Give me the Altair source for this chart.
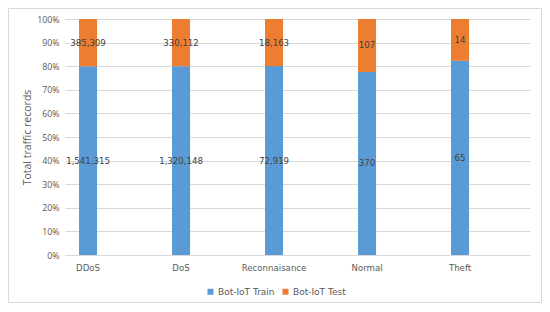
import altair as alt
import pandas as pd

categories = ["DDoS", "DoS", "Reconnaisance", "Normal", "Theft"]
train = [1541315, 1320148, 72919, 370, 65]
test = [385309, 330112, 18163, 107, 14]
series_names = ["Bot-IoT Train", "Bot-IoT Test"]
colors = ["#5B9BD5", "#ED7D31"]
y_ticks = [0, 0.1, 0.2, 0.3, 0.4, 0.5, 0.6, 0.7, 0.8, 0.9, 1.0]

rows = []
for i, c in enumerate(categories):
    rows.append({"category": c, "series": series_names[0], "value": train[i], "order": 0})
    rows.append({"category": c, "series": series_names[1], "value": test[i], "order": 1})
df = pd.DataFrame(rows)

GRID = "#d9d9d9"
TXT = "#595959"

base = alt.Chart(df).transform_stack(
    stack="value",
    groupby=["category"],
    as_=["y0", "y1"],
    offset="normalize",
    sort=[alt.SortField("order", order="ascending")],
).transform_calculate(mid="(datum.y0 + datum.y1) / 2")

xscale = alt.Scale(paddingInner=0.806, paddingOuter=0.403, align=0.187)
xaxis = alt.Axis(
    title=None, labelAngle=0, ticks=False, domainColor=GRID,
    labelPadding=8, labelFont="DejaVu Sans", labelFontSize=8.6, labelColor=TXT,
)
yscale = alt.Scale(domain=[0, 1], nice=False)
yaxis = alt.Axis(
    title="Total traffic records", format=".0%", values=y_ticks,
    ticks=False, domain=False, grid=True, gridColor=GRID, labelPadding=6,
    labelOverlap=False,
    labelFont="Open Sans", labelFontSize=8.8, labelColor=TXT,
    titleFont="Open Sans", titleFontSize=10.5, titleFontWeight="normal",
    titleColor=TXT, titlePadding=4,
)

bars = base.mark_bar().encode(
    x=alt.X("category:N", sort=categories, scale=xscale, axis=xaxis),
    y=alt.Y("y0:Q", scale=yscale, axis=yaxis),
    y2="y1:Q",
    color=alt.Color(
        "series:N",
        scale=alt.Scale(domain=series_names, range=colors),
        legend=alt.Legend(
            title=None, orient="none", legendX=141, legendY=268,
            direction="horizontal", symbolType="square", symbolSize=36,
            symbolStrokeWidth=0, labelFont="DejaVu Sans", labelFontSize=9,
            labelColor=TXT, columnPadding=6, labelOffset=3,
        ),
    ),
)

labels = base.mark_text(font="DejaVu Sans", fontSize=8.6, color="#404040").encode(
    x=alt.X("category:N", sort=categories, scale=xscale, axis=xaxis),
    y=alt.Y("mid:Q", scale=yscale, axis=yaxis),
    text=alt.Text("value:Q", format=",d"),
)

border = alt.Chart(pd.DataFrame({"a": [0]})).mark_rect(
    filled=False, stroke=GRID, strokeWidth=1
).encode(
    x=alt.value(-56.5), x2=alt.value(476.5), y=alt.value(-10.5), y2=alt.value(283.5)
)

chart = alt.layer(bars, labels, border).properties(
    width=465, height=236,
    autosize=alt.AutoSizeParams(type="none"),
    padding={"left": 57, "top": 11, "right": 12, "bottom": 48},
).configure_view(stroke=None)

chart.save("out.html", embed_options={"renderer": "svg", "actions": False})
